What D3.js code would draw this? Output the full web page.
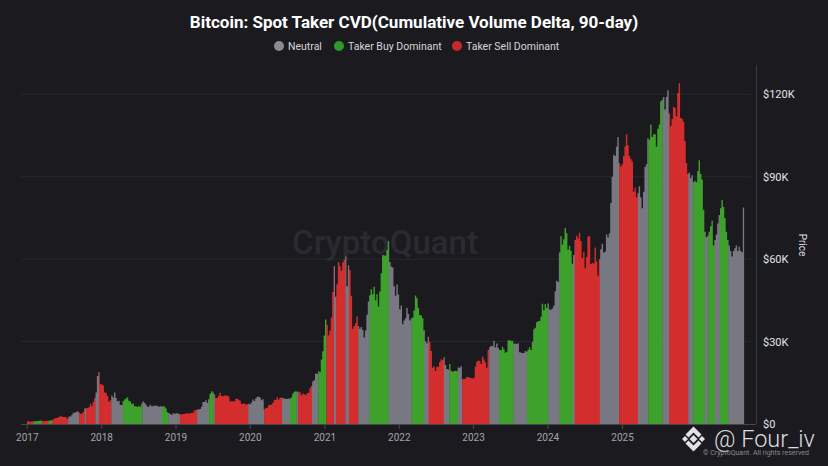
<!DOCTYPE html>
<html>
<head>
<meta charset="utf-8">
<script src="https://cdn.jsdelivr.net/npm/d3@7"></script>
<style>
  html, body { margin: 0; padding: 0; background: #1b1b1f; }
  svg { display: block; font-family: Roboto, "Noto Sans", sans-serif; }
</style>
</head>
<body>
<svg id="chart" width="828" height="466"></svg>
<script>
// weekly BTC price ($K), one array per calendar year, first value = first Monday of that year
const w2017 = [1.02, 0.91, 0.83, 0.92, 0.97, 1.01, 1.00, 1.05, 1.19, 1.27, 1.18, 0.97, 1.05,
  1.08, 1.18, 1.21, 1.25, 1.35, 1.72, 1.97, 2.20, 2.30, 2.55, 2.95, 2.60, 2.55,
  2.55, 2.45, 1.95, 2.75, 2.75, 3.25, 4.10, 4.10, 4.35, 4.60, 4.20, 3.70, 3.80,
  4.40, 5.60, 5.70, 5.90, 6.10, 7.40, 6.50, 8.00, 9.50, 11.5, 17.5, 18.8, 14.5];
const w2018 = [14.5, 14.0, 11.5, 11.4, 10.2, 8.1, 8.6, 10.4, 9.6, 11.5, 9.5, 8.3, 8.5,
  6.9, 6.9, 8.3, 8.9, 9.3, 9.7, 8.5, 8.2, 7.3, 7.5, 6.5, 6.5, 6.2,
  6.6, 6.3, 7.4, 8.2, 7.7, 7.0, 6.3, 6.4, 7.0, 6.5, 6.5, 6.7, 6.6,
  6.6, 6.3, 6.5, 6.5, 6.4, 6.4, 5.6, 4.3, 4.0, 3.6, 3.3, 3.9, 3.7, 3.8];
const w2019 = [4.0, 3.6, 3.55, 3.45, 3.6, 3.65, 3.95, 3.85, 3.85, 3.95, 4.0, 4.1,
  5.0, 5.1, 5.3, 5.3, 5.5, 6.3, 8.0, 8.0, 8.6, 7.7, 9.0, 11.0, 11.9,
  11.5, 10.7, 9.5, 9.5, 10.3, 11.4, 10.2, 10.1, 10.4, 10.4, 10.3, 10.0, 8.2, 8.3,
  8.3, 8.2, 9.2, 9.2, 8.8, 8.5, 7.3, 7.4, 7.5, 7.1, 7.2, 7.4, 7.2];
const w2020 = [7.8, 8.9, 8.4, 9.3, 9.9, 9.9, 9.6, 8.6, 9.0, 5.4, 5.8, 5.9, 6.8,
  6.9, 7.1, 7.7, 8.8, 8.7, 9.7, 8.9, 9.5, 9.7, 9.4, 9.3, 9.2, 9.1,
  9.3, 9.2, 9.7, 11.1, 11.7, 11.9, 11.7, 11.7, 11.6, 10.4, 11.1, 10.8, 10.6,
  11.3, 11.4, 13.0, 13.8, 15.5, 16.0, 18.4, 18.2, 19.2, 18.8, 23.5, 26.5, 32.2];
const w2021 = [38.0, 36.0, 32.3, 34.0, 38.8, 48.0, 57.5, 46.3, 50.9, 59.0, 57.5, 55.8, 58.8,
  59.8, 61.0, 50.1, 57.8, 56.0, 46.7, 34.7, 35.7, 36.7, 39.1, 35.6, 34.7, 35.3,
  34.2, 31.5, 34.0, 39.8, 44.6, 46.9, 49.0, 47.2, 50.0, 45.0, 47.3, 42.8, 48.2,
  54.9, 61.5, 61.3, 61.3, 63.3, 66.5, 59.0, 57.3, 57.0, 50.1, 46.7, 50.8, 47.1];
const w2022 = [41.8, 43.1, 36.3, 37.7, 38.5, 42.2, 40.0, 37.7, 38.4, 38.8, 41.3, 46.8, 45.8,
  42.2, 39.7, 39.5, 38.5, 34.1, 30.1, 29.4, 31.8, 29.9, 26.6, 20.5, 21.0, 19.3,
  20.8, 20.8, 22.6, 23.6, 23.2, 24.3, 21.5, 20.0, 19.8, 21.8, 19.4, 19.0, 19.3,
  19.4, 19.2, 20.6, 20.5, 21.0, 16.3, 16.5, 16.5, 17.1, 17.1, 16.8, 16.7, 16.6];
const w2023 = [16.8, 20.9, 22.7, 23.1, 22.9, 21.8, 24.6, 23.5, 22.4, 20.5, 26.9, 27.9, 28.5,
  28.3, 30.3, 27.8, 29.3, 27.7, 26.9, 26.8, 28.1, 27.2, 25.9, 26.3, 30.5, 30.5,
  30.3, 30.3, 29.2, 29.3, 29.1, 29.4, 26.1, 26.0, 25.8, 25.8, 26.6, 26.3, 27.0,
  27.9, 26.9, 29.9, 34.5, 35.0, 37.0, 37.4, 37.5, 39.0, 43.8, 41.4, 43.7, 42.3];
const w2024 = [43.9, 41.7, 41.6, 42.0, 43.0, 48.3, 52.1, 51.7, 62.4, 68.3, 65.3, 67.2, 71.3,
  69.4, 63.4, 64.9, 63.1, 58.3, 61.5, 67.0, 68.5, 67.5, 69.6, 66.6, 60.3, 62.7,
  56.7, 60.8, 68.2, 68.3, 58.2, 58.7, 58.4, 64.2, 59.1, 54.0, 60.0, 63.6, 65.6, 62.3,
  62.8, 69.0, 67.9, 69.4, 80.4, 90.0, 98.0, 97.5, 101.0, 104.5, 95.0, 93.7, 94.5];
const w2025 = [97.5, 101.0, 105.5, 101.5, 97.5, 96.5, 95.5, 84.5, 86.0, 82.5, 84.0, 86.5, 82.5,
  78.5, 84.5, 93.5, 94.5, 104.0, 103.5, 109.0, 104.5, 105.5, 105.5, 101.0, 107.5, 109.0,
  117.5, 118.0, 119.0, 114.5, 119.0, 121.5, 113.0, 108.5, 111.0, 115.5, 115.0, 112.0, 120.5,
  124.0, 111.5, 111.0, 110.0, 103.0, 95.0, 91.0, 91.5, 89.5, 90.5, 88.0, 88.5, 88.0];
const w2026 = [92.0, 96.0, 91.0, 89.0, 78.0, 70.0, 68.0, 68.5, 70.0, 72.0, 74.0, 65.0, 67.0,
  69.0, 73.0, 76.0, 78.5, 81.5, 79.0, 75.0, 70.0, 67.0, 65.0, 63.0, 61.0, 63.0,
  64.0, 65.0, 63.0, 64.5, 63.0, 62.5, 78.8];
const priceYears = [2017, 2018, 2019, 2020, 2021, 2022, 2023, 2024, 2025, 2026];

// CVD regime: start date of each run and its type (n = neutral, b = buy, s = sell)
const regimeStarts = ["2017-01-01", "2017-02-02", "2017-03-15", "2017-04-16", "2017-05-04",
  "2017-07-23", "2017-09-15", "2017-10-11", "2017-10-18", "2017-12-04", "2017-12-21",
  "2018-02-20", "2018-04-18", "2018-07-22", "2018-10-26", "2018-11-26", "2019-01-22",
  "2019-04-17", "2019-06-15", "2019-07-07", "2019-07-13", "2019-12-24", "2020-03-11",
  "2020-06-07", "2020-07-16", "2020-08-17", "2020-08-26", "2020-11-01", "2020-12-02",
  "2021-01-11", "2021-02-17", "2021-02-27", "2021-04-14", "2021-05-01", "2021-06-16",
  "2021-08-11", "2021-11-13", "2022-03-05", "2022-05-05", "2022-05-28", "2022-08-10",
  "2022-09-07", "2022-10-19", "2022-11-09", "2023-03-21", "2023-05-08", "2023-07-19",
  "2023-09-22", "2024-01-04", "2024-03-01", "2024-05-05", "2024-05-14", "2024-09-14",
  "2024-12-18", "2025-03-20", "2025-05-10", "2025-07-19", "2025-08-20", "2025-11-22",
  "2025-12-16", "2026-02-12", "2026-02-28", "2026-04-02", "2026-04-26", "2026-06-06"];
const regimeTypes = ["s", "b", "s", "b", "s",
  "n", "s", "n", "s", "n", "s",
  "n", "b", "n", "b", "n", "s",
  "n", "b", "n", "s", "n", "s",
  "n", "b", "n", "s", "n", "b",
  "s", "n", "s", "n", "s", "n",
  "b", "n", "b", "n", "s", "n",
  "b", "n", "s", "n", "b", "n",
  "b", "n", "b", "n", "s", "n",
  "s", "n", "b", "n", "s", "n",
  "b", "n", "b", "n", "b", "n"];

const yTicks = [0, 30000, 60000, 90000, 120000];
const yearTicks = [2017, 2018, 2019, 2020, 2021, 2022, 2023, 2024, 2025];
const legendKeys = ["n", "b", "s"];
const legendLabels = ["Neutral", "Taker Buy Dominant", "Taker Sell Dominant"];
const regimeColor = { n: "#787882", b: "#3da12c", s: "#d42d2d" };
const legendColor = { n: "#8a8a94", b: "#2f9a28", s: "#c52a2a" };

const svg = d3.select("#chart");
const W = 828, H = 466;
const left = 21, right = 751, axisX = 756, base = 424;

svg.append("rect").attr("width", W).attr("height", H).attr("fill", "#1b1b1f");

const parse = d3.timeParse("%Y-%m-%d");

// flatten weekly series
const prices = [];
const yearArrays = [w2017, w2018, w2019, w2020, w2021, w2022, w2023, w2024, w2025, w2026];
priceYears.forEach((yr, k) => {
  const first = d3.timeMonday.ceil(new Date(yr, 0, 1));
  yearArrays[k].forEach((v, i) => prices.push({ date: d3.timeDay.offset(first, 7 * i), value: v * 1000 }));
});
const lastPt = prices[prices.length - 1];
const lastEnd = d3.timeDay.offset(lastPt.date, 7);

const x = d3.scaleTime()
  .domain([new Date(2017, 0, 1), new Date(2025, 0, 1)])
  .range([26.8, 622]);
const y = d3.scaleLinear().domain([0, 120000]).range([base, 94.3]);

// gridlines
svg.append("g")
  .selectAll("line")
  .data(yTicks.filter(d => d > 0))
  .join("line")
  .attr("x1", left).attr("x2", right)
  .attr("y1", d => y(d)).attr("y2", d => y(d))
  .attr("stroke", "#27282d").attr("stroke-width", 1);

// watermark
svg.append("text")
  .attr("x", 385).attr("y", 254)
  .attr("text-anchor", "middle")
  .attr("font-size", 33).attr("font-weight", 500)
  .attr("fill", "#2a2b30")
  .text("CryptoQuant");

// price silhouette (weekly steps) as one clip path
const area = d3.area()
  .curve(d3.curveStepAfter)
  .x(d => x(d.date))
  .y0(y(0))
  .y1(d => y(d.value));
svg.append("defs").append("clipPath").attr("id", "priceClip")
  .append("path")
  .attr("d", area(prices.concat([{ date: lastEnd, value: lastPt.value }])));

// regime bands, clipped by price
const regimes = regimeStarts.map((s, i) => ({
  start: parse(s),
  end: i < regimeStarts.length - 1 ? parse(regimeStarts[i + 1]) : lastEnd,
  type: regimeTypes[i]
}));
svg.append("g")
  .attr("clip-path", "url(#priceClip)")
  .selectAll("rect")
  .data(regimes)
  .join("rect")
  .attr("x", d => x(d.start))
  .attr("width", d => x(d.end) - x(d.start) + 0.3)
  .attr("y", 60)
  .attr("height", base - 60)
  .attr("fill", d => regimeColor[d.type]);

// baseline
svg.append("line")
  .attr("x1", left).attr("x2", axisX)
  .attr("y1", base + 0.5).attr("y2", base + 0.5)
  .attr("stroke", "#45464c");

// right axis line
svg.append("line")
  .attr("x1", axisX + 0.5).attr("x2", axisX + 0.5)
  .attr("y1", 65).attr("y2", base)
  .attr("stroke", "#3a3b41");

// x axis
const gx = svg.append("g")
  .attr("transform", `translate(0,${base})`)
  .call(d3.axisBottom(x)
    .tickValues(yearTicks.map(yr => new Date(yr, 0, 1)))
    .tickFormat(d3.timeFormat("%Y"))
    .tickSize(5)
    .tickPadding(5));
gx.select(".domain").remove();
gx.selectAll(".tick line").attr("stroke", "#4a4b51");
gx.selectAll(".tick text")
  .attr("fill", "#a3a3aa")
  .attr("font-size", 10)
  .attr("font-family", "Roboto, sans-serif");

// y axis on the right
const gy = svg.append("g")
  .attr("transform", `translate(${axisX},0)`)
  .call(d3.axisRight(y)
    .tickValues(yTicks)
    .tickFormat(d => d === 0 ? "$0" : "$" + d / 1000 + "K")
    .tickSize(0)
    .tickPadding(7));
gy.select(".domain").remove();
gy.selectAll(".tick text")
  .attr("fill", "#e4e4e8")
  .attr("font-size", 11)
  .attr("font-family", "Roboto, sans-serif");

svg.append("text")
  .attr("transform", "translate(799,245) rotate(90)")
  .attr("text-anchor", "middle")
  .attr("font-size", 10)
  .attr("fill", "#dcdce0")
  .text("Price");

// title
svg.append("text")
  .attr("x", 414).attr("y", 28)
  .attr("text-anchor", "middle")
  .attr("font-size", 17).attr("font-weight", 700)
  .attr("fill", "#ffffff")
  .text("Bitcoin: Spot Taker CVD(Cumulative Volume Delta, 90-day)");

// legend
const legendX = [279, 339, 457];
const lg = svg.append("g").selectAll("g")
  .data(legendKeys)
  .join("g")
  .attr("transform", (d, i) => `translate(${legendX[i]},46)`);
lg.append("circle").attr("r", 5).attr("fill", d => legendColor[d]);
lg.append("text")
  .attr("x", 9).attr("y", 4)
  .attr("font-size", 10.5)
  .attr("fill", "#d6d6da")
  .text((d, i) => legendLabels[i]);

// signature
const logo = svg.append("g").attr("transform", "translate(693.5,439)").attr("fill", "#e2e2e4");
logo.append("polygon").attr("points", "0,-4 4,0 0,4 -4,0");
logo.append("polygon").attr("points", "-8.5,-3 -5.5,0 -8.5,3 -11.5,0");
logo.append("polygon").attr("points", "8.5,-3 11.5,0 8.5,3 5.5,0");
logo.append("polygon").attr("points", "0,-12.5 8,-4.5 5,-1.5 0,-6.5 -5,-1.5 -8,-4.5");
logo.append("polygon").attr("points", "0,12.5 8,4.5 5,1.5 0,6.5 -5,1.5 -8,4.5");
svg.append("text")
  .attr("x", 714).attr("y", 447)
  .attr("font-size", 23.5).attr("font-weight", 300)
  .attr("fill", "#dedee0")
  .text("@ Four_iv");
svg.append("text")
  .attr("x", 703).attr("y", 455)
  .attr("font-size", 7)
  .attr("fill", "#8a8a90")
  .text("© CryptoQuant. All rights reserved");
</script>
</body>
</html>
